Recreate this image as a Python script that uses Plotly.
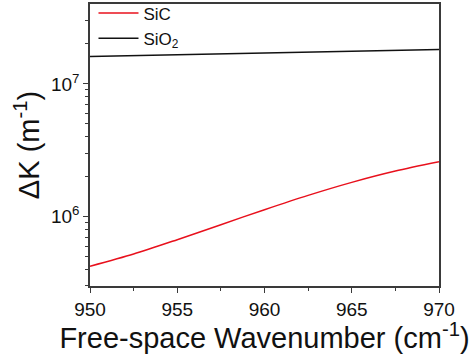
import plotly.graph_objects as go

wavenumber = [950, 952.5, 955, 957.5, 960, 962.5, 965, 967.5, 970]
sic = [4.22e5, 5.22e5, 6.70e5, 8.69e5, 1.127e6, 1.445e6, 1.811e6, 2.203e6, 2.588e6]
wavenumber_sio2 = [950, 955, 960, 965, 970]
sio2 = [1.61e7, 1.66e7, 1.71e7, 1.76e7, 1.82e7]
ytick_vals = [1e6, 1e7]
ytick_text = ["10<sup>6</sup>", "10<sup>7</sup>"]
xtick_vals = [950, 955, 960, 965, 970]

FONT = "Liberation Sans, Arial, sans-serif"
AX = "#3a3a3a"

fig = go.Figure()
fig.add_trace(go.Scatter(x=wavenumber, y=sic, mode="lines", name="SiC",
                         line=dict(color="#e8101c", width=1.5, shape="spline", smoothing=0.8)))
fig.add_trace(go.Scatter(x=wavenumber_sio2, y=sio2, mode="lines", name="SiO<sub>2</sub>",
                         line=dict(color="#111111", width=1.5)))

fig.update_layout(
    width=474, height=354,
    margin=dict(l=90, r=35, t=4, b=68, autoexpand=False),
    paper_bgcolor="white", plot_bgcolor="white",
    font=dict(family=FONT, color="#111"),
    legend=dict(x=0.01, y=1.03, xanchor="left", yanchor="top",
                bgcolor="rgba(0,0,0,0)", font=dict(size=17, family=FONT),
                itemwidth=40, tracegroupgap=0),
    showlegend=True,
)
fig.update_xaxes(
    range=[950, 970], tickvals=xtick_vals,
    ticks="outside", ticklen=5, tickwidth=1.2, tickcolor=AX,
    minor=dict(ticks="outside", ticklen=3, tickcolor=AX, dtick=2.5),
    showline=True, linecolor=AX, linewidth=1.5, mirror=True,
    showgrid=False, zeroline=False,
    tickfont=dict(size=19, family=FONT),
    title=dict(text="Free-space Wavenumber (cm<sup>-1</sup>)", font=dict(size=29, family=FONT), standoff=4),
)
fig.update_yaxes(
    type="log", range=[5.477, 7.602],
    tickvals=ytick_vals, ticktext=ytick_text,
    ticks="outside", ticklen=5, tickwidth=1.2, tickcolor=AX,
    minor=dict(ticks="outside", ticklen=3, tickcolor=AX,
               tickvals=[3e5, 4e5, 5e5, 6e5, 7e5, 8e5, 9e5,
                         2e6, 3e6, 4e6, 5e6, 6e6, 7e6, 8e6, 9e6, 2e7, 3e7]),
    showline=True, linecolor=AX, linewidth=1.5, mirror=True,
    showgrid=False, zeroline=False,
    tickfont=dict(size=19, family=FONT),
    title=dict(text="ΔK (m<sup>-1</sup>)", font=dict(size=29, family=FONT), standoff=3),
)
fig.write_html("out.html")
